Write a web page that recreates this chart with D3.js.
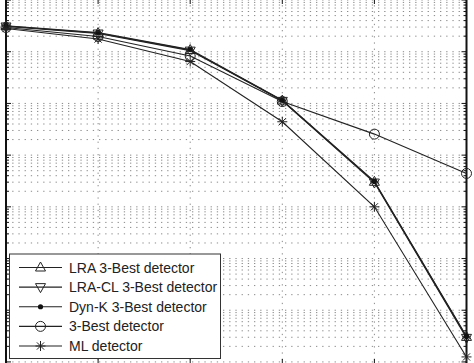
<!DOCTYPE html>
<html>
<head>
<meta charset="utf-8">
<script src="https://cdn.jsdelivr.net/npm/d3@7"></script>
<style>
  html, body { margin: 0; padding: 0; background: #fff; overflow: hidden; }
  svg { display: block; }
</style>
</head>
<body>
<svg id="chart" width="474" height="363"></svg>
<script>
// ---- data ----
const snr = [0, 5, 10, 15, 20, 25];
const lra   = [0.314, 0.230, 0.108, 0.01137, 3.05e-4, 3.05e-7];
const lraCl = [0.308, 0.225, 0.105, 0.0112, 2.95e-4, 2.92e-7];
const dynK  = [0.318, 0.234, 0.110, 0.0115, 3.1e-4, 3.12e-7];
const best3 = [0.294, 0.197, 0.0826, 0.01087, 2.55e-3, 4.43e-4];
const ml    = [0.281, 0.176, 0.0646, 4.42e-3, 1.0e-4, 1.25e-7];
const seriesNames = ["LRA 3-Best detector", "LRA-CL 3-Best detector", "Dyn-K 3-Best detector", "3-Best detector", "ML detector"];
const seriesMarkers = ["triUp", "triDown", "dot", "circle", "star"];
const xTicks = [0, 5, 10, 15, 20, 25];
const yDomain = [Math.pow(10, -7.04), Math.pow(10, 0.02)];

const seriesValues = [lra, lraCl, dynK, best3, ml];

(function () {
// ---- layout ----
const svg = d3.select("#chart");
const pLeft = 6, pRight = 466.5, pTop = -1, pBottom = 364;

const x = d3.scaleLinear().domain([snr[0], snr[snr.length - 1]]).range([pLeft, pRight]);
const y = d3.scaleLog().domain(yDomain).range([pBottom, pTop]);

const gridColor = "#8a8a8a";
const grid = svg.append("g");

// horizontal log grid (major + minor)
const yGridVals = [];
for (let e = -8; e <= 0; e++) {
  for (let m = 1; m <= 9; m++) {
    const v = m * Math.pow(10, e);
    if (v >= yDomain[0] && v <= yDomain[1]) yGridVals.push({v, major: m === 1});
  }
}
grid.selectAll("line.hg").data(yGridVals).enter().append("line")
  .attr("x1", pLeft).attr("x2", pRight)
  .attr("y1", d => y(d.v)).attr("y2", d => y(d.v))
  .attr("stroke", gridColor).attr("stroke-width", 1)
  .attr("stroke-dasharray", "1.3,4.9");

// vertical grid
grid.selectAll("line.vg").data(xTicks.slice(1, -1)).enter().append("line")
  .attr("x1", d => x(d)).attr("x2", d => x(d))
  .attr("y1", pTop).attr("y2", pBottom)
  .attr("stroke", gridColor).attr("stroke-width", 1)
  .attr("stroke-dasharray", "1.3,4.9");

// ---- axes frame with inward ticks ----
const axesG = svg.append("g").attr("stroke", "#111").attr("fill", "none");
axesG.selectAll("line.yl").data(yGridVals).enter().append("line")
  .attr("x1", pLeft).attr("x2", d => pLeft + (d.major ? 5 : 3))
  .attr("y1", d => y(d.v)).attr("y2", d => y(d.v)).attr("stroke-width", 1);
axesG.selectAll("line.yr").data(yGridVals).enter().append("line")
  .attr("x1", pRight).attr("x2", d => pRight - (d.major ? 5 : 3))
  .attr("y1", d => y(d.v)).attr("y2", d => y(d.v)).attr("stroke-width", 1);
axesG.selectAll("line.xb").data(xTicks).enter().append("line")
  .attr("x1", d => x(d)).attr("x2", d => x(d))
  .attr("y1", pBottom).attr("y2", pBottom - 5).attr("stroke-width", 1);
axesG.selectAll("line.xt").data(xTicks).enter().append("line")
  .attr("x1", d => x(d)).attr("x2", d => x(d))
  .attr("y1", pTop).attr("y2", pTop + 5).attr("stroke-width", 1);
axesG.append("rect")
  .attr("x", pLeft).attr("y", pTop)
  .attr("width", pRight - pLeft).attr("height", pBottom - pTop)
  .attr("stroke-width", 2);

// ---- markers ----
function drawMarker(g, type, cx, cy) {
  const stroke = "#222";
  if (type === "triUp") {
    g.append("path").attr("d", `M${cx},${cy - 5.5}L${cx + 5},${cy + 3.5}L${cx - 5},${cy + 3.5}Z`)
      .attr("fill", "none").attr("stroke", stroke).attr("stroke-width", 1);
  } else if (type === "triDown") {
    g.append("path").attr("d", `M${cx},${cy + 5.5}L${cx + 5},${cy - 3.5}L${cx - 5},${cy - 3.5}Z`)
      .attr("fill", "none").attr("stroke", stroke).attr("stroke-width", 1);
  } else if (type === "dot") {
    g.append("circle").attr("cx", cx).attr("cy", cy).attr("r", 2.6).attr("fill", "#111");
  } else if (type === "circle") {
    g.append("circle").attr("cx", cx).attr("cy", cy).attr("r", 5)
      .attr("fill", "none").attr("stroke", stroke).attr("stroke-width", 1);
  } else if (type === "star") {
    const s = 5, d = 3.6;
    g.append("path").attr("d",
      `M${cx - s},${cy}H${cx + s}M${cx},${cy - s}V${cy + s}` +
      `M${cx - d},${cy - d}L${cx + d},${cy + d}M${cx - d},${cy + d}L${cx + d},${cy - d}`)
      .attr("fill", "none").attr("stroke", stroke).attr("stroke-width", 1);
  }
}

const line = d3.line().x((d, i) => x(snr[i])).y(d => y(d));
const plotG = svg.append("g");
seriesValues.forEach((vals) => {
  plotG.append("path").datum(vals).attr("d", line)
    .attr("fill", "none").attr("stroke", "#222").attr("stroke-width", 1.1);
});
seriesValues.forEach((vals, si) => {
  vals.forEach((v, i) => drawMarker(plotG, seriesMarkers[si], x(snr[i]), y(v)));
});

// ---- legend ----
const lg = svg.append("g");
const lx = 9.5, ly = 254, lw = 211, lh = 104.5;
lg.append("rect").attr("x", lx).attr("y", ly).attr("width", lw).attr("height", lh)
  .attr("fill", "#fff").attr("stroke", "#333").attr("stroke-width", 1);
const rowY = d3.scaleLinear().domain([0, seriesNames.length - 1]).range([267.5, 346]);
seriesNames.forEach((name, i) => {
  const cy = rowY(i);
  lg.append("line").attr("x1", 19).attr("x2", 62).attr("y1", cy).attr("y2", cy)
    .attr("stroke", "#222").attr("stroke-width", 1.1);
  drawMarker(lg, seriesMarkers[i], 40.5, cy);
  lg.append("text").attr("x", 69).attr("y", cy + 5)
    .attr("font-family", "'Liberation Sans', Arial, Helvetica, sans-serif")
    .attr("font-size", 14).attr("fill", "#222").text(name);
});
})();
</script>
</body>
</html>
